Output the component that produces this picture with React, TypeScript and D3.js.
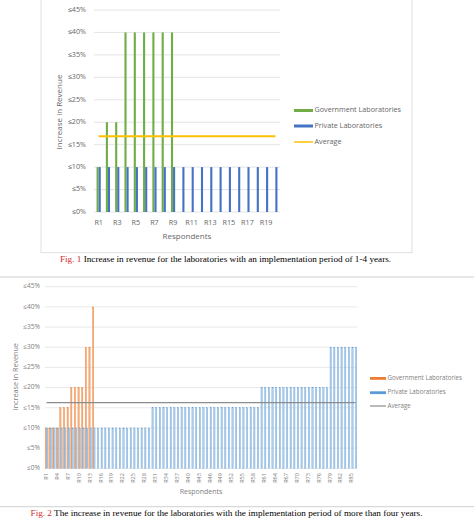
import React from "react";
import * as d3 from "d3";

// ---------- Fig. 1 data ----------
const fig1Categories = ["R1","R2","R3","R4","R5","R6","R7","R8","R9","R10","R11","R12","R13","R14","R15","R16","R17","R18","R19","R20"];
const fig1Government = [10, 20, 20, 40, 40, 40, 40, 40, 40];
const fig1Private = [10,10,10,10,10,10,10,10,10,10,10,10,10,10,10,10,10,10,10,10];
const fig1Average = 16.9;
const fig1TickLabels = ["≤0%","≤5%","≤10%","≤15%","≤20%","≤25%","≤30%","≤35%","≤40%","≤45%"];
const fig1TickValues = [0,5,10,15,20,25,30,35,40,45];

// ---------- Fig. 2 data ----------
const fig2Categories = [
  "R1","R2","R3","R4","R5","R6","R7","R8","R9","R10","R11","R12","R13","R14","R15","R16","R17","R18","R19","R20",
  "R21","R22","R23","R24","R25","R26","R27","R28","R29","R30","R31","R32","R33","R34","R35","R36","R37","R38","R39","R40",
  "R41","R42","R43","R44","R45","R46","R47","R48","R49","R50","R51","R52","R53","R54","R55","R56","R57","R58","R59","R60",
  "R61","R62","R63","R64","R65","R66","R67","R68","R69","R70","R71","R72","R73","R74","R75","R76","R77","R78","R79","R80",
  "R81","R82","R83","R84","R85","R86"
];
const fig2Government = [10,10,10,10,15,15,15,20,20,20,20,30,30,40];
const fig2Private = [
  10,10,10,10,10,10,10,10,10,10,10,10,10,10,10,10,10,10,10,10,10,10,10,10,10,10,10,10,10,
  15,15,15,15,15,15,15,15,15,15,15,15,15,15,15,15,15,15,15,15,15,15,15,15,15,15,15,15,15,15,
  20,20,20,20,20,20,20,20,20,20,20,20,20,20,20,20,20,20,20,
  30,30,30,30,30,30,30,30
];
const fig2Average = 16.25;
const fig2TickLabels = ["≤0%","≤5%","≤10%","≤15%","≤20%","≤25%","≤30%","≤35%","≤40%","≤45%"];
const fig2TickValues = [0,5,10,15,20,25,30,35,40,45];
const fig2LabelStep = 3;

const legendLabels = ["Government Laboratories", "Private Laboratories", "Average"];

const SANS = "'Open Sans', 'Noto Sans', sans-serif";
const SERIF = "'Liberation Serif', 'DejaVu Serif', serif";

function Fig1() {
  const x = d3.scaleBand<string>().domain(fig1Categories).range([94, 280]).padding(0);
  const y = d3.scaleLinear().domain([0, 45]).range([212, 10]);
  const bw = 2.1;
  const c = (k: string) => (x(k) as number) + x.bandwidth() / 2;
  const avgLine = d3.line<string>().x((k) => c(k)).y(() => y(fig1Average));
  const grey = "#666666";
  return (
    <g>
      <rect x={41} y={-6} width={371} height={258.7} fill="#fff" stroke="#d9d9d9" strokeWidth={0.8} />
      {fig1TickValues.map((v, i) => (
        <g key={"g" + v}>
          <line x1={94} x2={280} y1={y(v)} y2={y(v)} stroke="#d9d9d9" strokeWidth={0.7} />
          <text x={86} y={y(v)} textAnchor="end" dominantBaseline="middle" fontSize={7.2} fill={grey} fontFamily={SANS}>
            {fig1TickLabels[i]}
          </text>
        </g>
      ))}
      {fig1Government.map((v, i) => (
        <rect key={"gov" + i} x={c(fig1Categories[i]) - bw} width={bw} y={y(v)} height={y(0) - y(v)} fill="#70AD47" />
      ))}
      {fig1Private.map((v, i) => (
        <rect key={"pri" + i} x={c(fig1Categories[i])} width={bw} y={y(v)} height={y(0) - y(v)} fill="#4472C4" />
      ))}
      <path d={avgLine(fig1Categories) || ""} stroke="#FFC000" strokeWidth={2} fill="none" />
      {fig1Categories.map((k, i) =>
        i % 2 === 0 ? (
          <text key={"xl" + k} x={c(k)} y={223} textAnchor="middle" dominantBaseline="middle" fontSize={7.2} fill={grey} fontFamily={SANS}>
            {k}
          </text>
        ) : null
      )}
      <text x={187} y={237} textAnchor="middle" dominantBaseline="middle" fontSize={8} fill={grey} fontFamily={SANS}>
        Respondents
      </text>
      <text transform={`translate(60,112) rotate(-90)`} textAnchor="middle" dominantBaseline="middle" fontSize={8} fill={grey} fontFamily={SANS}>
        Increase in Revenue
      </text>
      {/* legend */}
      <rect x={294} y={109} width={19} height={3} fill="#70AD47" />
      <rect x={294} y={124.5} width={19} height={3} fill="#4472C4" />
      <line x1={294} x2={313} y1={142} y2={142} stroke="#FFC000" strokeWidth={1.5} />
      {legendLabels.map((t, i) => (
        <text key={"lg" + t} x={314.5} y={110.5 + i * 15.8} dominantBaseline="middle" fontSize={7.2} fill={grey} fontFamily={SANS}>
          {t}
        </text>
      ))}
      <text x={225.5} y={262} textAnchor="middle" fontSize={9.2} fontFamily={SERIF} fill="#000">
        <tspan fill="#d22c2c">Fig. 1</tspan> Increase in revenue for the laboratories with an implementation period of 1-4 years.
      </text>
    </g>
  );
}

function Fig2() {
  const x = d3.scaleBand<string>().domain(fig2Categories).range([44.7, 357.3]).padding(0);
  const y = d3.scaleLinear().domain([0, 45]).range([468.3, 286.7]);
  const bw = 1.3;
  const c = (k: string) => (x(k) as number) + x.bandwidth() / 2;
  const avgLine = d3.line<string>().x((k) => c(k)).y(() => y(fig2Average));
  const grey = "#808080";
  return (
    <g>
      <line x1={-2} x2={476} y1={277} y2={277} stroke="#d0d0d0" strokeWidth={1} />
      <line x1={-2} x2={476} y1={506.7} y2={506.7} stroke="#d0d0d0" strokeWidth={1} />
      {fig2TickValues.map((v, i) => (
        <g key={"g2" + v}>
          <line x1={44.7} x2={357.3} y1={y(v)} y2={y(v)} stroke="#e0e0e0" strokeWidth={0.7} />
          <text x={40} y={y(v)} textAnchor="end" dominantBaseline="middle" fontSize={6.6} fill={grey} fontFamily={SANS}>
            {fig2TickLabels[i]}
          </text>
        </g>
      ))}
      {fig2Government.map((v, i) => (
        <rect key={"gov2" + i} x={c(fig2Categories[i]) - bw} width={bw} y={y(v)} height={y(0) - y(v)}
          fill="#f4b183" stroke="#ed7d31" strokeWidth={0.35} />
      ))}
      {fig2Private.map((v, i) => (
        <rect key={"pri2" + i} x={c(fig2Categories[i])} width={bw} y={y(v)} height={y(0) - y(v)}
          fill="#b4cfea" stroke="#5b9bd5" strokeWidth={0.35} />
      ))}
      <path d={avgLine(fig2Categories) || ""} stroke="#8c8c8c" strokeWidth={1.3} fill="none" />
      {fig2Categories.map((k, i) =>
        i % fig2LabelStep === 0 ? (
          <text key={"xl2" + k} transform={`translate(${c(k)},473) rotate(-90)`} textAnchor="end" dominantBaseline="middle"
            fontSize={5.6} fill={grey} fontFamily={SANS}>
            {k}
          </text>
        ) : null
      )}
      <text x={201} y={492.3} textAnchor="middle" dominantBaseline="middle" fontSize={7} fill={grey} fontFamily={SANS}>
        Respondents
      </text>
      <text transform={`translate(15.7,376.7) rotate(-90)`} textAnchor="middle" dominantBaseline="middle" fontSize={7.2} fill={grey} fontFamily={SANS}>
        Increase in Revenue
      </text>
      {/* legend */}
      <rect x={370} y={377} width={16} height={2.8} fill="#ed7d31" />
      <rect x={370} y={391.3} width={16} height={2.8} fill="#5b9bd5" />
      <line x1={370} x2={386} y1={406} y2={406} stroke="#8c8c8c" strokeWidth={1.2} />
      {legendLabels.map((t, i) => (
        <text key={"lg2" + t} x={387.5} y={378.5 + i * 14} dominantBaseline="middle" fontSize={6.2} fill={grey} fontFamily={SANS}>
          {t}
        </text>
      ))}
      <text x={226.5} y={516} textAnchor="middle" fontSize={9.2} fontFamily={SERIF} fill="#000">
        <tspan fill="#d22c2c">Fig. 2</tspan> The increase in revenue for the laboratories with the implementation period of more than four years.
      </text>
    </g>
  );
}

export default function App() {
  return (
    <svg width={474} height={518} viewBox="0 0 474 518"
      style={{ position: "absolute", left: 0, top: 0, background: "#fff" }}>
      <rect x={0} y={0} width={474} height={518} fill="#fff" />
      <Fig1 />
      <Fig2 />
    </svg>
  );
}
